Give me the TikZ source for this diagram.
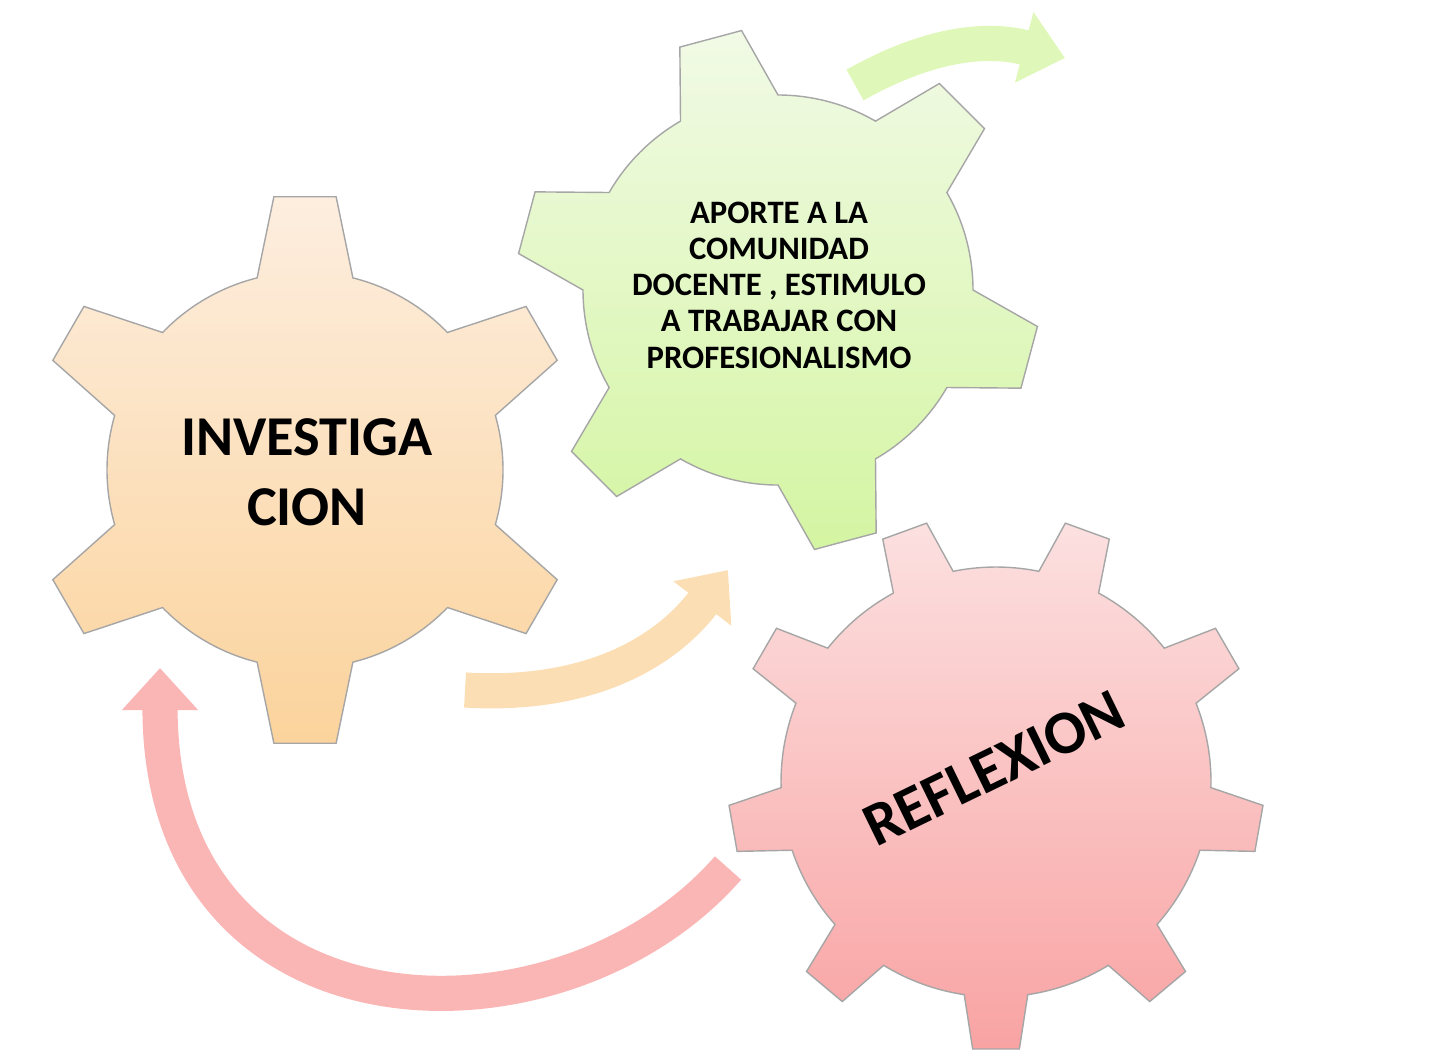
\documentclass[tikz,border=0pt]{standalone}
\usepackage{fontspec}
\setmainfont{Carlito}
\usetikzlibrary{arrows.meta}
\tikzset{
 pics/gear/.style n args={7}{code={%
  \path[pic actions] (#4-180/#1:#2)
   \foreach \k in {1,...,#1}{
     arc[start angle={#4+(\k-1)*360/#1-180/#1}, end angle={#4+(\k-1)*360/#1-#5}, radius=#2]
     -- ({#4+(\k-1)*360/#1-#6}:#3) -- ({#4+(\k-1)*360/#1+#6}:#3)
     -- ({#4+(\k-1)*360/#1+#5}:#2)
     arc[start angle={#4+(\k-1)*360/#1+#5}, end angle={#4+\k*360/#1-180/#1}, radius=#2]
   } -- cycle;
  \node[#7] at (0,0) {};
 }},
 gearline/.style={draw=gray!70, line width=0.4pt},
 arr/.style={line width=10pt, -{Triangle[width=20pt,length=12pt]}},
 lbl/.style={font=\bfseries, align=center},
}
\definecolor{oTop}{HTML}{FDEEDF}\definecolor{oBot}{HTML}{FBD39C}
\definecolor{gTop}{HTML}{F1FAE6}\definecolor{gBot}{HTML}{D4F5A2}
\definecolor{pTop}{HTML}{FCE0E0}\definecolor{pBot}{HTML}{F9A3A3}
\begin{document}
\begin{tikzpicture}[x=0.01cm,y=-0.01cm]
\useasboundingbox (0,0) rectangle (1455,1057);
% arrows
\coordinate (a1s) at (465,690); \coordinate (a1e) at (728,570);
\draw[arr, draw=oBot!75!white] (a1s) to[bend right=28] (a1e);
\coordinate (a2s) at (728,868); \coordinate (a2e) at (160,668);
\draw[arr, draw=pBot!80!white, line width=10pt, -{Triangle[width=21pt,length=12pt]}] (a2s) .. controls (560,1060) and (160,1050) .. (a2e);
\coordinate (a3s) at (855,85); \coordinate (a3e) at (1065,58);
\draw[arr, draw=gBot!75!white] (a3s) to[bend left=22] (a3e);
% gears
\pic[gearline, top color=oTop, bottom color=oBot] at (305,470) {gear={6}{198}{275}{90}{14}{6.5}{}};
\pic[gearline, top color=gTop, bottom color=gBot] at (778,290) {gear={6}{195}{262}{15}{15}{7}{}};
\pic[gearline, top color=pTop, bottom color=pBot] at (996,782) {gear={9}{215}{268}{90}{8.5}{5}{}};
% texts
\node[lbl, font=\bfseries\fontsize{16}{20}\selectfont] (t1) at (307,472) {INVESTIGA\\CION};
\node[lbl, font=\bfseries\fontsize{9.3}{10.3}\selectfont] (t2) at (779,285) {APORTE A LA\\COMUNIDAD\\DOCENTE , ESTIMULO\\A TRABAJAR CON\\PROFESIONALISMO};
\node[lbl, font=\bfseries\fontsize{17.5}{21}\selectfont, rotate=26] (t3) at (994,768) {REFLEXION};
\end{tikzpicture}
\end{document}
